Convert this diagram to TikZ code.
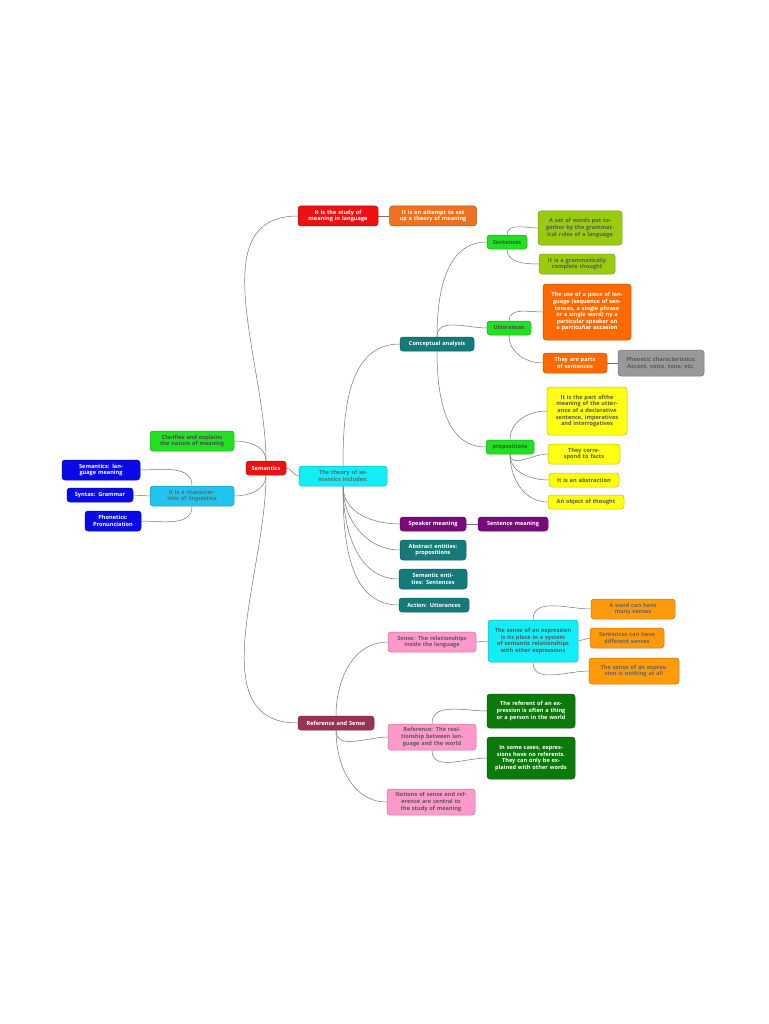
\documentclass[tikz,border=0pt]{standalone}
\usepackage{fontspec}
\setmainfont{Open Sans}
\usetikzlibrary{backgrounds}
\definecolor{cred}{HTML}{EE1111}
\definecolor{corg}{HTML}{F07020}
\definecolor{cgrn}{HTML}{22E022}
\definecolor{ccyl}{HTML}{22C4EE}
\definecolor{cblu}{HTML}{0A0AE8}
\definecolor{ccya}{HTML}{11EEF8}
\definecolor{ctea}{HTML}{157A7A}
\definecolor{coli}{HTML}{99CC11}
\definecolor{cor2}{HTML}{FF6A00}
\definecolor{cgry}{HTML}{999999}
\definecolor{cyel}{HTML}{FFFF11}
\definecolor{cpur}{HTML}{7A0A7A}
\definecolor{cmar}{HTML}{993355}
\definecolor{cpnk}{HTML}{FF99CC}
\definecolor{cor3}{HTML}{FF9A0A}
\definecolor{cdgr}{HTML}{0A7A0A}
\tikzset{
 b/.style 2 args={draw=#1!75!black, fill=#1, text=#2, rounded corners=3pt, align=center,
   font=\fontsize{5.6}{6.6}\selectfont\bfseries, inner sep=1pt, line width=0.5pt},
 w/.style={minimum width=#1, text width=#1-5pt},
 e/.style={draw=black!55, line width=0.5pt},
}
\newcommand{\up}[2]{\draw[e] (#1.north) to[out=90,in=180] (#2.west);}
\newcommand{\dn}[2]{\draw[e] (#1.south) to[out=-90,in=180] (#2.west);}
\newcommand{\st}[2]{\draw[e] (#1.east) -- (#2.west);}
\newcommand{\lf}[2]{\draw[e] (#1.north) to[out=90,in=0] (#2.east);}
\newcommand{\ld}[2]{\draw[e] (#1.south) to[out=-90,in=0] (#2.east);}
\begin{document}
\begin{tikzpicture}[x=1pt,y=-1pt]
\useasboundingbox (0,0) rectangle (768,1024);
\node[b={cred}{white},w=40,minimum height=14] (sem) at (266,468) {Semantics};
\node[b={cred}{white},w=80,minimum height=20] (study) at (338,216) {It is the study of meaning in language};
\node[b={corg}{white},w=87,minimum height=20] (att) at (433,216) {It is an attempt to set up a theory of meaning};
\node[b={cgrn}{black!70},w=84,minimum height=20] (clar) at (192,441) {Clarifies and explains the nature of meaning};
\node[b={ccyl}{black!60},w=84,minimum height=20] (char) at (192,496) {It is a characteristic of linguistics};
\node[b={cblu}{white},w=78,minimum height=20] (slm) at (101,470) {Semantics: language meaning};
\node[b={cblu}{white},w=66,minimum height=14] (syn) at (100,495) {Syntax: Grammar};
\node[b={cblu}{white},w=56,minimum height=20] (pho) at (113,521) {Phonetics: Pronunciation};
\node[b={ccya}{black!60},w=88,minimum height=20] (theo) at (343,476) {The theory of semantics includes:};
\node[b={ctea}{white},w=74,minimum height=14] (conc) at (437,344) {Conceptual analysis};
\node[b={cgrn}{black!70},w=40,minimum height=14] (sent) at (507,242) {Sentences};
\node[b={coli}{black!65},w=84,minimum height=34] (set) at (580,228) {A set of words put together by the grammatical rules of a language};
\node[b={coli}{black!65},w=76,minimum height=20] (gram) at (577,264) {It is a grammatically complete thought};
\node[b={cgrn}{black!70},w=44,minimum height=14] (utt) at (509,328) {Utterances};
\node[b={cor2}{white},w=88,minimum height=56] (use) at (587,312) {The use of a piece of language (sequence of sentences, a single phrase or a single word) ny a particular speaker on a particuñar occasion};
\node[b={cor2}{white},w=64,minimum height=20] (parts) at (575,363) {They are parts of sentences};
\node[b={cgry}{black!65},w=86,minimum height=26] (phc) at (661,363) {Phonetic characteristics: Accent, voice, tone, etc.};
\node[b={cgrn}{black!70},w=48,minimum height=14] (prop) at (510,447) {propositions};
\node[b={cyel}{black!65},w=80,minimum height=48] (part) at (587,411) {It is the part ofthe meaning of the utterance of a declarative sentence, imperatives and interrogatives};
\node[b={cyel}{black!65},w=72,minimum height=20] (corr) at (584,454) {They correspond to facts};
\node[b={cyel}{black!65},w=70,minimum height=14] (abs) at (584,480) {It is an abstraction};
\node[b={cyel}{black!65},w=76,minimum height=14] (obj) at (586,502) {An object of thought};
\node[b={cpur}{white},w=66,minimum height=14] (spk) at (433,524) {Speaker meaning};
\node[b={cpur}{white},w=70,minimum height=14] (snm) at (513,524) {Sentence meaning};
\node[b={ctea}{white},w=66,minimum height=20] (abe) at (433,550) {Abstract entities: propositions};
\node[b={ctea}{white},w=68,minimum height=20] (see) at (433,579) {Semantic entities: Sentences};
\node[b={ctea}{white},w=70,minimum height=14] (act) at (434,605) {Action: Utterances};
\node[b={cmar}{white},w=76,minimum height=14] (rs) at (336,723) {Reference and Sense};
\node[b={cpnk}{black!65},w=88,minimum height=20] (sense) at (432,642) {Sense: The relationships inside the language};
\node[b={ccya}{black!65},w=90,minimum height=42] (soa) at (533,641) {The sense of an expression is its place in a system of semantic relationships with other expressions};
\node[b={cor3}{black!60},w=84,minimum height=20] (wm) at (633,609) {A word can have many senses};
\node[b={cor3}{black!60},w=74,minimum height=20] (sch) at (627,638) {Sentences can have different senses};
\node[b={cor3}{black!60},w=90,minimum height=26] (noth) at (634,671) {The sense of an expression is nothing at all};
\node[b={cpnk}{black!65},w=88,minimum height=26] (ref) at (432,737) {Reference: The realtionship between language and the world};
\node[b={cdgr}{white},w=88,minimum height=34] (rfe) at (531,711) {The referent of an expression is often a thing or a person in the world};
\node[b={cdgr}{white},w=88,minimum height=42] (some) at (531,758) {In some cases, expressions have no referents. They can only be explained with other words};
\node[b={cpnk}{black!65},w=88,minimum height=26] (not) at (431,802) {Notions of sense and reference are central to the study of meaning};
\begin{scope}[on background layer]
\up{sem}{study} \st{study}{att}
\draw[e] (sem.north) to[out=90,in=0] (clar.east);
\draw[e] (sem.south) to[out=-90,in=0] (char.east);
\draw[e] (sem.east) to[out=0,in=180] (theo.west);
\lf{char}{slm} \st{syn}{char} \ld{char}{pho}
\dn{sem}{rs}
\up{theo}{conc} \dn{theo}{spk} \dn{theo}{abe} \dn{theo}{see} \dn{theo}{act}
\st{spk}{snm}
\up{conc}{sent} \up{conc}{utt} \dn{conc}{prop}
\up{sent}{set} \dn{sent}{gram}
\up{utt}{use} \dn{utt}{parts} \st{parts}{phc}
\up{prop}{part} \dn{prop}{corr} \dn{prop}{abs} \dn{prop}{obj}
\up{rs}{sense} \dn{rs}{ref} \dn{rs}{not}
\st{sense}{soa}
\up{soa}{wm} \st{soa}{sch} \dn{soa}{noth}
\up{ref}{rfe} \dn{ref}{some}
\end{scope}
\end{tikzpicture}
\end{document}
